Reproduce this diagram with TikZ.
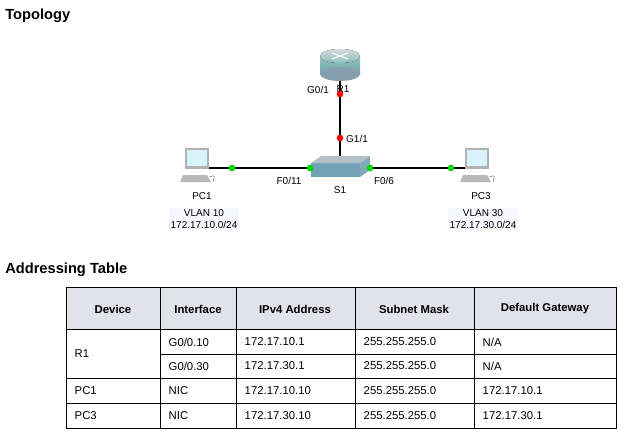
\documentclass[tikz,border=0pt]{standalone}
\usepackage{fontspec}
\setmainfont{Liberation Sans}
\begin{document}
\begin{tikzpicture}[x=0.75pt,y=-0.75pt,
  lbl/.style={font=\fontsize{7.5}{8.5}\selectfont,inner sep=1pt},
  vl/.style={font=\fontsize{7.5}{8.5}\selectfont,fill=blue!3,inner sep=1pt,align=center},
  ttl/.style={font=\bfseries\fontsize{11}{13}\selectfont,anchor=west,inner sep=0pt},
  hd/.style={font=\bfseries\fontsize{8.5}{10}\selectfont},
  td/.style={font=\fontsize{8.5}{10}\selectfont,anchor=west},
  gdot/.style={circle,fill=green!85!black,minimum size=5pt,inner sep=0pt},
  rdot/.style={circle,fill=red,minimum size=5pt,inner sep=0pt},
  link/.style={line width=1.3pt}]
\useasboundingbox (0,0) rectangle (627,444);
\node[ttl] (t1) at (5,16) {Topology};
\node[ttl] (t2) at (5,270) {Addressing Table};
% devices
\coordinate (S) at (340,168);
\coordinate (P1) at (197,163);
\coordinate (P3) at (477,163);
\draw[link] (340,80) -- (S);
\draw[link] (205,168) -- (470,168);
% router
\fill[top color=cyan!25!gray!60,bottom color=cyan!40!black!60] (320,56) rectangle (360,74);
\fill[cyan!40!black!60] (340,74) ellipse (20 and 7);
\fill[top color=gray!30,bottom color=cyan!30!gray!70] (340,56) ellipse (20 and 7);
\draw[white,thick] (332,53)--(348,59) (332,59)--(348,53);
% switch
\fill[cyan!40!gray] (311,163)--(360,163)--(360,177)--(311,177)--cycle;
\fill[cyan!20!gray!60] (311,163)--(321,156)--(370,156)--(360,163)--cycle;
\fill[cyan!50!black!60] (360,163)--(370,156)--(370,170)--(360,177)--cycle;
% PCs
\foreach \c in {P1,P3}{
 \begin{scope}[shift={(\c)}]
  \fill[gray!60] (-12,-15) rectangle (12,6);
  \fill[cyan!15] (-10,-13) rectangle (10,3);
  \fill[gray!55] (-14,12)--(10,12)--(14,19)--(-17,19)--cycle;
  \draw[gray] (12,14) .. controls (18,12) .. (16,19);
 \end{scope}}
\node[gdot] (d1) at (232,168) {};
\node[gdot] (d2) at (310,168) {};
\node[gdot] (d3) at (370,168) {};
\node[gdot] (d4) at (451,168) {};
\node[rdot] (d5) at (340,94) {};
\node[rdot] (d6) at (340,138) {};
\node[lbl] (l1) at (318,90) {G0/1};
\node[lbl] (l2) at (343,89) {R1};
\node[lbl] (l3) at (357,139) {G1/1};
\node[lbl] (l4) at (289,181) {F0/11};
\node[lbl] (l5) at (384,181) {F0/6};
\node[lbl] (l6) at (340,190) {S1};
\node[lbl] (l7) at (202,196) {PC1};
\node[lbl] (l8) at (481,196) {PC3};
\node[vl] (l9) at (204,219) {VLAN 10\\172.17.10.0/24};
\node[vl] (l10) at (483,219) {VLAN 30\\172.17.30.0/24};
% table
\fill[blue!12!gray!20] (66,287) rectangle (616,329);
\draw (66,287) rectangle (616,428);
\foreach \x in {160,236,355,474} \draw (\x,287)--(\x,428);
\draw (66,329)--(616,329) (66,378)--(616,378) (66,403)--(616,403) (160,354)--(616,354);
\node[hd] (h1) at (113,309) {Device};
\node[hd] (h2) at (198,309) {Interface};
\node[hd] (h3) at (295,309) {IPv4 Address};
\node[hd] (h4) at (414,309) {Subnet Mask};
\node[hd] (h5) at (545,309) {Default Gateway};
\node[td] (a1) at (70,354) {R1};
\node[td] (a2) at (164,342) {G0/0.10};
\node[td] (a3) at (240,342) {172.17.10.1};
\node[td] (a4) at (359,342) {255.255.255.0};
\node[td] (a5) at (478,342) {N/A};
\node[td] (b2) at (164,366) {G0/0.30};
\node[td] (b3) at (240,366) {172.17.30.1};
\node[td] (b4) at (359,366) {255.255.255.0};
\node[td] (b5) at (478,366) {N/A};
\node[td] (c1) at (70,391) {PC1};
\node[td] (c2) at (164,391) {NIC};
\node[td] (c3) at (240,391) {172.17.10.10};
\node[td] (c4) at (359,391) {255.255.255.0};
\node[td] (c5) at (478,391) {172.17.10.1};
\node[td] (e1) at (70,416) {PC3};
\node[td] (e2) at (164,416) {NIC};
\node[td] (e3) at (240,416) {172.17.30.10};
\node[td] (e4) at (359,416) {255.255.255.0};
\node[td] (e5) at (478,416) {172.17.30.1};
\end{tikzpicture}
\end{document}
